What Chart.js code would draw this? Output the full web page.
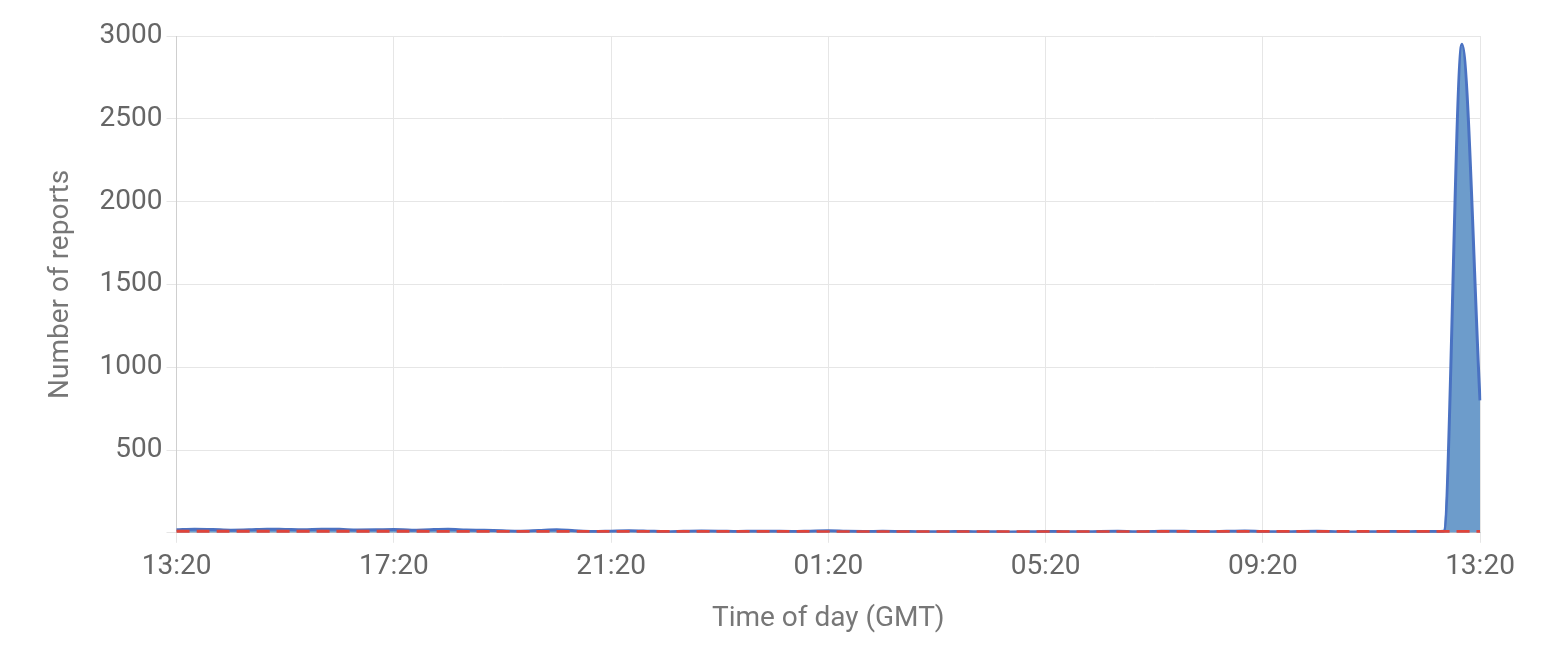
<!DOCTYPE html>
<html>
<head>
<meta charset="utf-8">
<script src="https://cdn.jsdelivr.net/npm/chart.js@4"></script>
<style>
  html, body { margin: 0; padding: 0; background: #fff; }
  #wrap { width: 1562px; height: 654px; }
</style>
</head>
<body>
<div id="wrap"><canvas id="reportsChart"></canvas></div>
<script>
// ===========================
// Reports over the last 24h (20 minute buckets, 13:20 -> 13:20 GMT)
// ===========================

const startHour = 13;
const startMinute = 20;
const stepMinutes = 20;

// reports per bucket
const reports = [
    18, 22, 20, 16, 18, 22, 20, 18, 22, 21, 17, 18,
    20, 16, 19, 21, 17, 15, 12, 10, 14, 18, 12, 8,
    10, 12, 10, 7, 9, 11, 10, 8, 10, 9, 8, 10,
    12, 9, 8, 9, 8, 7, 6, 8, 7, 6, 5, 6,
    8, 7, 6, 8, 9, 7, 8, 10, 8, 6, 9, 11,
    7, 6, 8, 9, 7, 5, 6, 8, 7, 8, 10, 2950,
    800
];

// typical baseline (red dashed)
const baseline = [
    8, 8, 8, 8, 8, 8, 8, 8, 8, 8, 8, 8,
    8, 8, 7, 7, 7, 7, 7, 7, 7, 7, 7, 7,
    6, 6, 6, 6, 6, 6, 6, 6, 6, 6, 6, 6,
    5, 5, 5, 5, 5, 5, 5, 5, 5, 5, 5, 5,
    5, 5, 5, 5, 5, 5, 6, 6, 6, 6, 6, 6,
    6, 6, 6, 6, 6, 6, 6, 6, 6, 6, 6, 6,
    6
];

const labeledEvery = 12; // one label every 4 hours
const yMax = 3000;
const yStep = 500;

const timeLabels = reports.map((_, i) => {
    const total = startHour * 60 + startMinute + i * stepMinutes;
    const h = Math.floor(total / 60) % 24;
    const m = total % 60;
    return String(h).padStart(2, '0') + ':' + String(m).padStart(2, '0');
});

const ctx = document.getElementById('reportsChart').getContext('2d');

new Chart(ctx, {
    type: 'line',
    data: {
        labels: timeLabels,
        datasets: [{
            label: 'Reports',
            data: reports,
            borderColor: '#4a72c2',
            backgroundColor: '#6d9ccb',
            borderWidth: 3,
            fill: 'origin',
            cubicInterpolationMode: 'monotone',
            pointRadius: 0,
            order: 2
        }, {
            label: 'Baseline',
            data: baseline,
            borderColor: '#e0443a',
            borderWidth: 3.5,
            borderDash: [13, 7],
            fill: false,
            tension: 0.4,
            pointRadius: 0,
            order: 1
        }]
    },
    options: {
        responsive: true,
        maintainAspectRatio: false,
        animation: false,
        layout: {
            padding: { top: 36, right: 82, left: 44, bottom: 18 }
        },
        plugins: {
            legend: { display: false },
            tooltip: { enabled: false }
        },
        scales: {
            x: {
                grid: {
                    color: '#e6e6e6',
                    tickLength: 10
                },
                border: { color: '#cfcfcf' },
                ticks: {
                    autoSkip: false,
                    maxRotation: 0,
                    color: '#666',
                    padding: 7,
                    font: { family: 'Roboto', size: 28 },
                    callback: function(value, index) {
                        return index % labeledEvery === 0 ? this.getLabelForValue(value) : null;
                    }
                },
                title: {
                    display: true,
                    text: 'Time of day (GMT)',
                    color: '#777',
                    padding: { top: 12, bottom: 0 },
                    font: { family: 'Roboto', size: 28 }
                }
            },
            y: {
                min: 0,
                max: yMax,
                grid: {
                    color: '#e6e6e6',
                    tickLength: 10
                },
                border: { color: '#cfcfcf' },
                ticks: {
                    stepSize: yStep,
                    color: '#666',
                    padding: 4,
                    font: { family: 'Roboto', size: 28 },
                    callback: function(value) {
                        return value === 0 ? '' : value;
                    }
                },
                title: {
                    display: true,
                    text: 'Number of reports',
                    color: '#777',
                    padding: { top: 0, bottom: 18 },
                    font: { family: 'Roboto', size: 28 }
                }
            }
        }
    }
});
</script>
</body>
</html>
